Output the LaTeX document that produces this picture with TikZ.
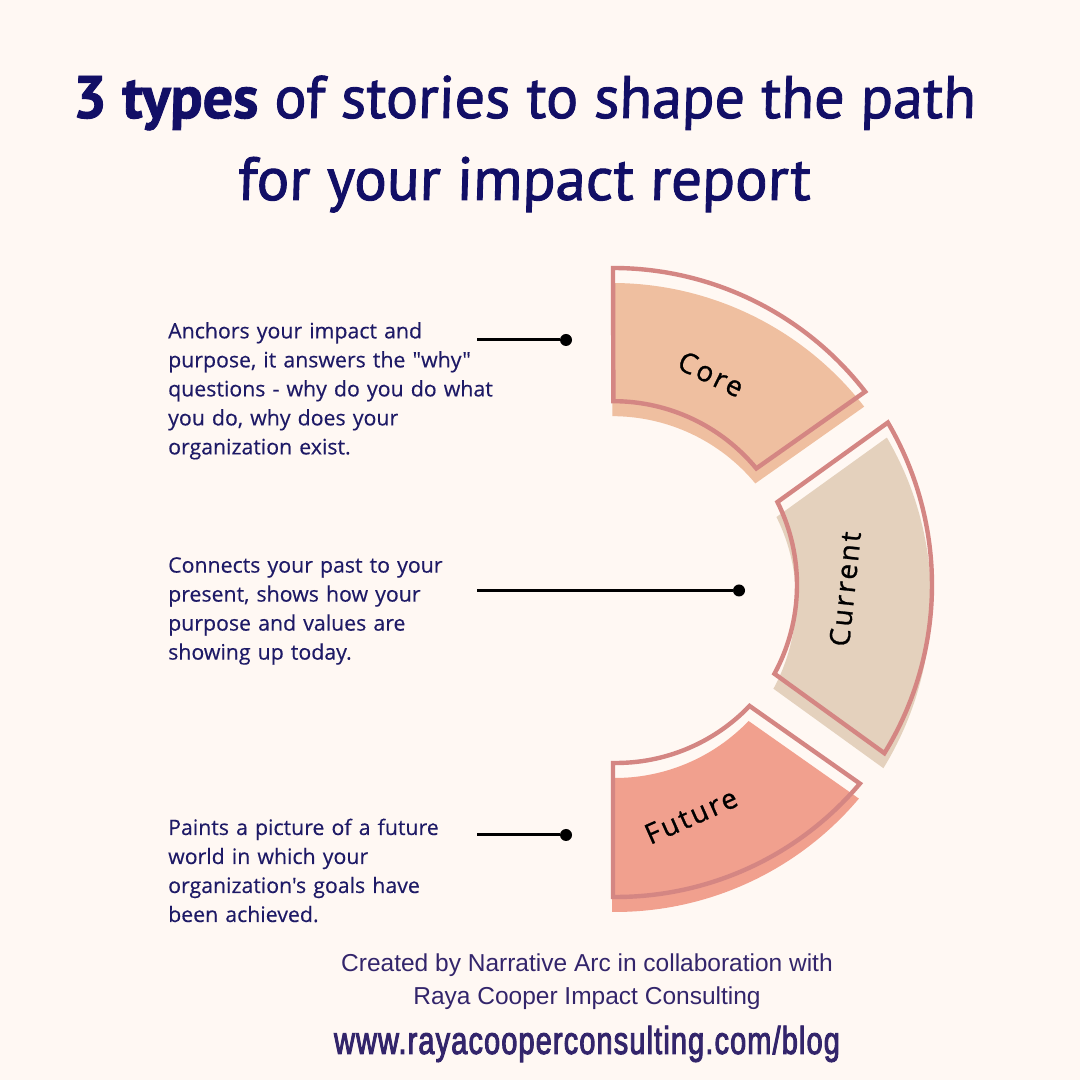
\documentclass[tikz,border=0pt]{standalone}
\usepackage{fontspec}
\setmainfont{Open Sans}
\newfontfamily\bodyfont[FakeBold=0.35]{Open Sans}
\newfontfamily\titlefont[FakeBold=1.5,FakeSlant=0.03]{PT Sans}
\newfontfamily\labelfont[LetterSpace=9,FakeBold=0.9]{Open Sans}
\newfontfamily\footfont{Liberation Sans}
\newfontfamily\urlfont[FakeStretch=0.74,FakeBold=2.4,LetterSpace=3]{Liberation Sans}
\definecolor{bgc}{HTML}{FFF8F3}
\definecolor{corec}{HTML}{EFBFA0}
\definecolor{currc}{HTML}{E4D1BD}
\definecolor{futc}{HTML}{F1A08E}
\definecolor{edgec}{HTML}{D48683}
\definecolor{navy}{HTML}{120F66}
\definecolor{bodyc}{HTML}{1E1A66}
\definecolor{footc}{HTML}{33256B}
\tikzset{
  seglabel/.style={font=\labelfont\fontsize{28}{32}\selectfont,text=black,inner sep=0pt},
  bodytext/.style={font=\bodyfont\fontsize{21.3}{29}\selectfont,text=bodyc,align=left,anchor=north west,inner sep=0pt,text width=340pt},
  leader/.style={draw=black,line width=3pt},
  dotnode/.style={circle,fill=black,inner sep=0pt,minimum size=12pt},
  outline/.style={draw=edgec,line width=4.4pt,miter limit=10,line join=miter},
  footline/.style={font=\footfont\fontsize{24.5}{33}\selectfont,text=footc,align=center,inner sep=0pt},
}
\newcommand{\corepath}{(90:319pt) arc[start angle=90,end angle=37.76,radius=319pt] -- (39.6:186pt) arc[start angle=39.6,end angle=90,radius=185.5pt] -- cycle}
\newcommand{\currpath}{(30.4:321pt) arc[start angle=30.4,end angle=-31.6,radius=321pt] -- (-28.5:186pt) arc[start angle=-28.5,end angle=26.5,radius=186pt] -- cycle}
\newcommand{\futpath}{(269.46:319pt) arc[start angle=269.46,end angle=319.87,radius=319pt] -- (316.23:185pt) arc[start angle=316.23,end angle=269.07,radius=185pt] -- cycle}
\begin{document}
\begin{tikzpicture}[x=1pt,y=1pt]
\path[fill=bgc] (0,0) rectangle (1080,1080);
\useasboundingbox (0,0) rectangle (1080,1080);
% segments
\begin{scope}[shift={(612,478)}]
  \fill[corec] \corepath;
\end{scope}
\begin{scope}[shift={(613,493)}]
  \draw[outline] \corepath;
\end{scope}
\begin{scope}[shift={(610,480)}]
  \fill[currc] \currpath;
\end{scope}
\begin{scope}[shift={(611,495)}]
  \draw[outline] \currpath;
\end{scope}
\begin{scope}[shift={(615,487)}]
  \fill[futc] \futpath;
\end{scope}
\begin{scope}[shift={(616,502)}]
  \draw[outline] \futpath;
\end{scope}
\node[seglabel,rotate=-26] (core) at (711,706) {Core};
\node[seglabel,rotate=84] (current) at (845,491) {Current};
\node[seglabel,rotate=24] (future) at (691,264) {Future};
% title
\node[font=\titlefont\fontsize{60}{82}\selectfont,text=navy,align=center,inner sep=0pt,anchor=base] (title) at (524,962) {\textbf{3 types} of stories to shape the path};
\node[font=\titlefont\fontsize{61}{82}\selectfont,text=navy,inner sep=0pt,anchor=base] (title2) at (524,880) {for your impact report};
% descriptions
\node[bodytext] (t1) at (168,758) {Anchors your impact and\\purpose, it answers the "why"\\questions - why do you do what\\you do, why does your\\organization exist.};
\node[bodytext] (t2) at (168,523) {Connects your past to your\\present, shows how your\\purpose and values are\\showing up today.};
\node[bodytext] (t3) at (168,261.5) {Paints a picture of a future\\world in which your\\organization's goals have\\been achieved.};
% leaders
\coordinate (l1) at (477,740);
\coordinate (l2) at (477,489.5);
\coordinate (l3) at (477,245);
\node[dotnode] (d1) at (566,740) {};
\node[dotnode] (d2) at (739,489.5) {};
\node[dotnode] (d3) at (566,245) {};
\draw[leader] (l1) -- (d1);
\draw[leader] (l2) -- (d2);
\draw[leader] (l3) -- (d3);
% footer
\node[footline,anchor=base] (f1) at (587,108) {Created by Narrative Arc in collaboration with};
\node[footline,anchor=base] (f2) at (587,75) {Raya Cooper Impact Consulting};
\node[font=\urlfont\fontsize{39}{44}\selectfont,text=footc,inner sep=0pt,anchor=base] (url) at (587,26) {www.rayacooperconsulting.com/blog};
\end{tikzpicture}
\end{document}
